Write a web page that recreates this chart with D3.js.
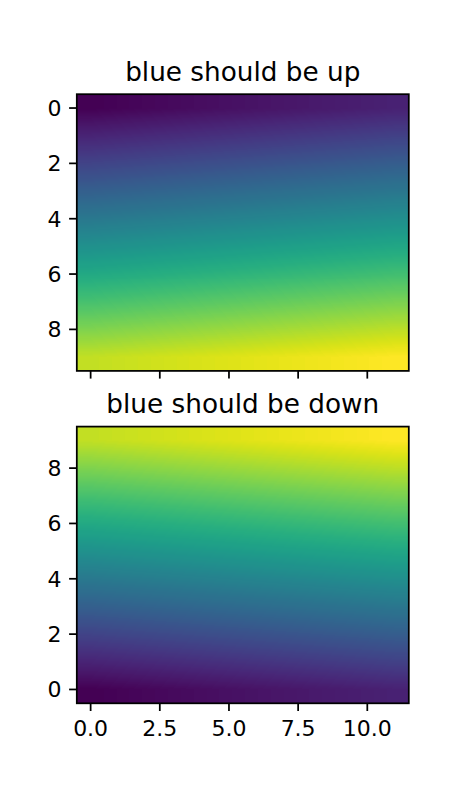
<!DOCTYPE html>
<html>
<head>
<meta charset="utf-8">
<script src="https://cdn.jsdelivr.net/npm/d3@7"></script>
<style>
  html, body { margin: 0; padding: 0; background: #fff; }
  svg { display: block; font-family: "DejaVu Sans", sans-serif; }
</style>
</head>
<body>
<div id="chart"></div>
<script>
// 10 x 12 image, row by row
var grid = [
  [0, 1, 2, 3, 4, 5, 6, 7, 8, 9, 10, 11],
  [12, 13, 14, 15, 16, 17, 18, 19, 20, 21, 22, 23],
  [24, 25, 26, 27, 28, 29, 30, 31, 32, 33, 34, 35],
  [36, 37, 38, 39, 40, 41, 42, 43, 44, 45, 46, 47],
  [48, 49, 50, 51, 52, 53, 54, 55, 56, 57, 58, 59],
  [60, 61, 62, 63, 64, 65, 66, 67, 68, 69, 70, 71],
  [72, 73, 74, 75, 76, 77, 78, 79, 80, 81, 82, 83],
  [84, 85, 86, 87, 88, 89, 90, 91, 92, 93, 94, 95],
  [96, 97, 98, 99, 100, 101, 102, 103, 104, 105, 106, 107],
  [108, 109, 110, 111, 112, 113, 114, 115, 116, 117, 118, 119]
];
var titles = ['blue should be up', 'blue should be down'];
var origins = ['upper', 'lower'];
var xTicks = [0, 2.5, 5, 7.5, 10];
var yTicks = [0, 2, 4, 6, 8];

var W = 474, H = 790;
var left = 76.8, right = 408.8;
var panelTops = [94.2, 426.6];
var panelH = 276.7;
var tickLen = 7.7, pad = 7.7, lw = 1.75;

var nRows = grid.length, nCols = grid[0].length;
var vmin = d3.min(grid, function(r) { return d3.min(r); });
var vmax = d3.max(grid, function(r) { return d3.max(r); });
var color = d3.scaleSequential(d3.interpolateViridis).domain([vmin, vmax]);

var x = d3.scaleLinear().domain([-0.5, nCols - 0.5]).range([left, right]);

var svg = d3.select('#chart').append('svg')
  .attr('width', W).attr('height', H);

// bilinear lookup with clamped edges
function sample(cx, cy) {
  cx = Math.max(0, Math.min(nCols - 1, cx));
  cy = Math.max(0, Math.min(nRows - 1, cy));
  var x0 = Math.floor(cx), y0 = Math.floor(cy);
  var x1 = Math.min(x0 + 1, nCols - 1), y1 = Math.min(y0 + 1, nRows - 1);
  var fx = cx - x0, fy = cy - y0;
  var a = grid[y0][x0] * (1 - fx) + grid[y0][x1] * fx;
  var b = grid[y1][x0] * (1 - fx) + grid[y1][x1] * fx;
  return a * (1 - fy) + b * fy;
}

function drawPanel(i) {
  var top = panelTops[i];
  var y = d3.scaleLinear().domain([-0.5, nRows - 0.5]);
  if (origins[i] == 'upper') y.range([top, top + panelH]);
  else y.range([top + panelH, top]);

  var w = Math.round(right - left), h = Math.round(panelH);
  var canvas = document.createElement('canvas');
  canvas.width = w; canvas.height = h;
  var ctx = canvas.getContext('2d');
  var img = ctx.createImageData(w, h);
  for (var py = 0; py < h; py++) {
    var dy = y.invert(top + (py + 0.5) * panelH / h);
    for (var px = 0; px < w; px++) {
      var dx = x.invert(left + (px + 0.5) * (right - left) / w);
      var c = d3.rgb(color(sample(dx, dy)));
      var k = (py * w + px) * 4;
      img.data[k] = c.r; img.data[k + 1] = c.g; img.data[k + 2] = c.b; img.data[k + 3] = 255;
    }
  }
  ctx.putImageData(img, 0, 0);

  var g = svg.append('g');
  g.append('image')
    .attr('x', left).attr('y', top)
    .attr('width', right - left).attr('height', panelH)
    .attr('preserveAspectRatio', 'none')
    .attr('href', canvas.toDataURL());

  g.append('rect')
    .attr('x', left).attr('y', top)
    .attr('width', right - left).attr('height', panelH)
    .attr('fill', 'none').attr('stroke', '#000').attr('stroke-width', lw);

  // y ticks
  var yt = g.selectAll('.yt').data(yTicks).enter().append('g');
  yt.append('line')
    .attr('x1', left).attr('x2', left - tickLen)
    .attr('y1', function(d) { return y(d); })
    .attr('y2', function(d) { return y(d); })
    .attr('stroke', '#000').attr('stroke-width', lw);
  yt.append('text')
    .attr('x', left - tickLen - pad)
    .attr('y', function(d) { return y(d); })
    .attr('dy', '0.36em')
    .attr('text-anchor', 'end')
    .attr('font-size', 22)
    .text(function(d) { return d; });

  // x ticks (labels only on bottom panel, shared x)
  var bottom = top + panelH;
  var xt = g.selectAll('.xt').data(xTicks).enter().append('g');
  xt.append('line')
    .attr('x1', function(d) { return x(d); })
    .attr('x2', function(d) { return x(d); })
    .attr('y1', bottom).attr('y2', bottom + tickLen)
    .attr('stroke', '#000').attr('stroke-width', lw);
  if (i == panelTops.length - 1) {
    xt.append('text')
      .attr('x', function(d) { return x(d); })
      .attr('y', bottom + tickLen + pad + 16.8)
      .attr('text-anchor', 'middle')
      .attr('font-size', 22)
      .text(function(d) { return d.toFixed(1); });
  }

  g.append('text')
    .attr('x', (left + right) / 2)
    .attr('y', top - 13.6)
    .attr('text-anchor', 'middle')
    .attr('font-size', 26.3)
    .text(titles[i]);
}

drawPanel(0);
drawPanel(1);
</script>
</body>
</html>
